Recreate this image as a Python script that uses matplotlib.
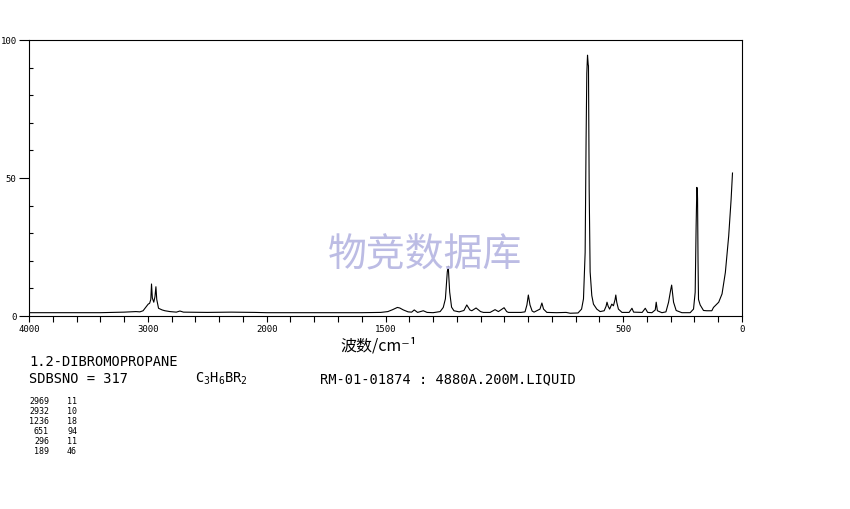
import numpy as np
import matplotlib
matplotlib.use("Agg")
from matplotlib import pyplot as plt

# Raman spectrum of 1,2-dibromopropane
wavenumber = [
    4000, 3800, 3600, 3400, 3300, 3200, 3100, 3067, 3040, 3024, 2997, 2985,
    2975, 2969, 2962, 2950, 2940, 2932, 2925, 2910, 2880, 2856, 2814, 2760,
    2730, 2700, 2500, 2300, 2100, 2000, 1800, 1600, 1520, 1490, 1470, 1450,
    1440, 1425, 1405, 1390, 1379, 1365, 1341, 1325, 1300, 1270, 1257, 1248,
    1240, 1236, 1230, 1222, 1212, 1190, 1170, 1158, 1145, 1137, 1119, 1100,
    1088, 1060, 1039, 1025, 1001, 990, 983, 930, 913, 905, 899, 892, 883, 875,
    850, 842, 835, 821, 780, 740, 723, 690, 675, 667, 660, 656, 653, 650, 647,
    646, 643, 639, 632, 625, 611, 597, 580, 572, 568, 563, 557, 548, 541, 534,
    531, 527, 520, 505, 475, 463, 456, 420, 407, 397, 379, 365, 361, 356, 337,
    320, 309, 300, 296, 292, 288, 277, 253, 218, 204, 197, 193, 190, 188, 187,
    185, 183, 176, 162, 148, 127, 120, 98, 84, 70, 56, 46, 40,
]
intensity = [
    1.2, 1.2, 1.2, 1.2, 1.3, 1.4, 1.6, 1.5, 1.9, 2.8, 4.3, 4.6,
    6.0, 11.6, 6.5, 5.0, 7.0, 10.6, 6.0, 2.8, 2.2, 1.9, 1.6, 1.4,
    1.8, 1.4, 1.3, 1.4, 1.3, 1.2, 1.2, 1.2, 1.3, 1.6, 2.3, 3.1,
    2.9, 2.2, 1.5, 1.4, 2.2, 1.3, 1.9, 1.3, 1.2, 1.6, 3.1, 6.2,
    16.0, 18.0, 8.7, 3.2, 1.9, 1.5, 2.0, 4.0, 2.2, 1.9, 2.9, 1.6,
    1.3, 1.3, 2.3, 1.6, 3.0, 1.6, 1.3, 1.3, 1.5, 4.0, 7.6, 4.0, 1.8, 1.4,
    2.5, 4.7, 2.5, 1.3, 1.2, 1.3, 1.0, 1.1, 2.5, 6.2, 23.0, 64.0, 88.0, 94.5, 91.0,
    90.7, 46.0, 16.0, 7.4, 4.3, 2.5, 1.6, 1.9, 3.5, 5.0, 3.5, 2.5, 4.3, 3.7, 6.0,
    7.6, 5.0, 2.5, 1.3, 1.3, 2.8, 1.4, 1.3, 2.8, 1.3, 1.2, 2.2, 5.0, 1.9, 1.2,
    1.5, 5.0, 9.5, 11.2, 8.0, 5.0, 2.0, 1.2, 1.2, 2.5, 8.6, 32.7, 46.6, 46.0, 42.4,
    20.0, 6.0, 4.0, 2.0, 1.9, 1.9, 3.1, 5.0, 8.0, 15.8, 29.0, 42.0, 51.8,
]

peak_wn = ["2969", "2932", "1236", "651", "296", "189"]
peak_int = ["11", "10", "18", "94", "11", "46"]

xtick_pos = list(range(4000, 2000, -200)) + list(range(2000, -1, -100))
xtick_text = {4000: "4000", 3000: "3000", 2000: "2000", 1500: "1500", 500: "500", 0: "0"}

plt.rcParams["mathtext.fontset"] = "custom"
plt.rcParams["mathtext.rm"] = "DejaVu Sans Mono"
mono = "DejaVu Sans Mono"


# above 2000 cm-1 the axis is compressed by half
def fwd(x):
    x = np.asarray(x, dtype=float)
    return np.where(x > 2000, 2000 + (x - 2000) / 2, x)


def inv(t):
    t = np.asarray(t, dtype=float)
    return np.where(t > 2000, 2000 + (t - 2000) * 2, t)


W, H = 850, 510
fig = plt.figure(figsize=(8.5, 5.1), dpi=100)
ax = fig.add_axes([29 / W, 1 - 317 / H, (742 - 29) / W, (317 - 41) / H])
ax.set_xscale("function", functions=(fwd, inv))
ax.plot(wavenumber, intensity, color="black", lw=0.8)
ax.set_xlim(4000, 0)
ax.set_ylim(0, 100)

for s in ax.spines.values():
    s.set_linewidth(0.8)

ax.set_xticks(xtick_pos)
ax.set_xticklabels([xtick_text.get(p, "") for p in xtick_pos], family=mono, fontsize=6.5)
ax.tick_params(axis="x", direction="out", length=4, width=0.8, pad=2)
ax.xaxis.set_minor_locator(matplotlib.ticker.NullLocator())

ax.set_yticks([0, 50, 100])
ax.set_yticklabels(["0", "50", "100"], family=mono, fontsize=6.5)
ax.set_yticks([10, 20, 30, 40, 60, 70, 80, 90], minor=True)
ax.tick_params(axis="y", which="major", direction="out", length=7, width=0.8, pad=2)
ax.tick_params(axis="y", which="minor", direction="in", length=3, width=0.8)

fig.text(379 / W, 1 - 346 / H, "波数/cm⁻¹", ha="center", va="center", fontsize=11.5,
         family=["Noto Sans CJK SC", "DejaVu Sans"])

fig.text(425 / W, 1 - 255 / H, "物竞数据库", ha="center", va="center", fontsize=28,
         color="#bcbce4", family=["Noto Sans CJK SC", "DejaVu Sans"])

fig.text(29 / W, 1 - 362 / H, "1.2-DIBROMOPROPANE", ha="left", va="center",
         family=mono, fontsize=9.9)
fig.text(29 / W, 1 - 379 / H, "SDBSNO = 317", ha="left", va="center",
         family=mono, fontsize=9.9)
fig.text(195 / W, 1 - 379 / H, r"C$_3$H$_6$BR$_2$", ha="left", va="center",
         family=mono, fontsize=9.9)
fig.text(320 / W, 1 - 379 / H, "RM-01-01874 : 4880A.200M.LIQUID", ha="left", va="center",
         family=mono, fontsize=9.9)

for i, (w, v) in enumerate(zip(peak_wn, peak_int)):
    y = 1 - (402 + 10 * i) / H
    fig.text(49 / W, y, w, ha="right", va="center", family=mono, fontsize=6)
    fig.text(67 / W, y, v, ha="left", va="center", family=mono, fontsize=6)

fig.savefig("out.png", dpi=100)
